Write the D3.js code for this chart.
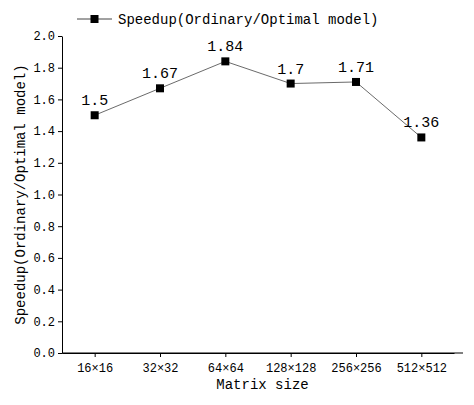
<!DOCTYPE html>
<html><head><meta charset="utf-8">
<script src="https://cdn.jsdelivr.net/npm/d3@7"></script>
<style>body{margin:0;background:#fff}text{font-family:"Liberation Mono","DejaVu Sans Mono",monospace}</style>
</head><body><svg id="c" width="474" height="405"></svg>
<script>
const categories=["16×16","32×32","64×64","128×128","256×256","512×512"];
const speedup=[1.5,1.67,1.84,1.7,1.71,1.36];
const yTicks=[0,0.2,0.4,0.6,0.8,1.0,1.2,1.4,1.6,1.8,2.0];
const seriesName="Speedup(Ordinary/Optimal model)";
const svg=d3.select("#c");
const L=62,R=463,T=36,B=353;
const x=d3.scalePoint().domain(categories).range([L,R-9]).padding(0.5);
const y=d3.scaleLinear().domain([0,2]).range([B,T]);
const ya=svg.append("g").attr("transform",`translate(${L},0)`).call(d3.axisLeft(y).tickValues(yTicks).tickFormat(d3.format(".1f")).tickSize(4).tickSizeOuter(0));
const xa=svg.append("g").attr("transform",`translate(0,${B})`).call(d3.axisBottom(x).tickSize(4).tickSizeOuter(0));
svg.append("line").attr("x1",L).attr("x2",R).attr("y1",B).attr("y2",B).attr("stroke","#000");
[ya,xa].forEach(a=>{a.selectAll("text").attr("font-size",12).attr("fill","#000");a.selectAll("path,line").attr("stroke","#000");});
xa.selectAll("text").attr("font-size",12).attr("dy","1em");
const line=d3.line().x((d,i)=>x(categories[i])).y(d=>y(d));
svg.append("path").datum(speedup).attr("d",line).attr("fill","none").attr("stroke","#444").attr("stroke-width",0.8);
svg.selectAll("rect.m").data(speedup).enter().append("rect").attr("x",(d,i)=>x(categories[i])-4).attr("y",d=>y(d)-4).attr("width",8).attr("height",8).attr("fill","#000");
svg.selectAll("text.v").data(speedup).enter().append("text").attr("x",(d,i)=>x(categories[i])).attr("y",d=>y(d)-10).attr("text-anchor","middle").attr("font-size",15).text(d=>d);
svg.append("text").attr("x",(L+R)/2).attr("y",389).attr("text-anchor","middle").attr("font-size",14).text("Matrix size");
svg.append("text").attr("transform",`translate(25,${(T+B)/2}) rotate(-90)`).attr("text-anchor","middle").attr("font-size",14).text(seriesName);
svg.append("line").attr("x1",77).attr("x2",112).attr("y1",19).attr("y2",19).attr("stroke","#444");
svg.append("rect").attr("x",90.5).attr("y",15).attr("width",8).attr("height",8);
svg.append("text").attr("x",118).attr("y",24).attr("font-size",14).text(seriesName);
</script></body></html>
